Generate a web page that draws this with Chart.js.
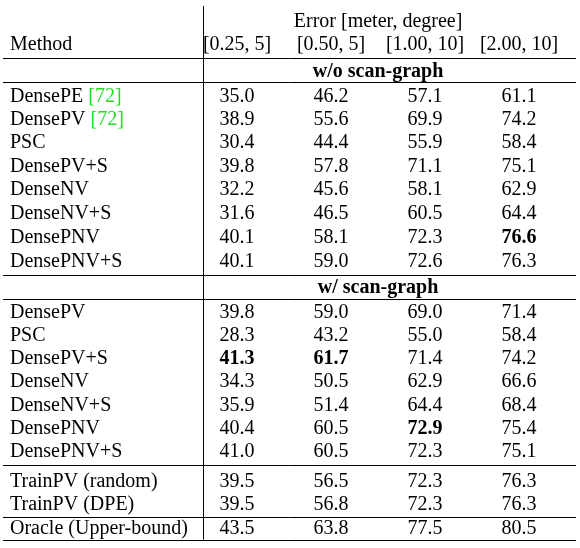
<!DOCTYPE html>
<html><head><meta charset="utf-8">
<script src="https://cdn.jsdelivr.net/npm/chart.js@4/dist/chart.umd.min.js"></script>
<style>html,body{margin:0;padding:0;background:#fff}</style>
</head><body>
<canvas id="c" width="580" height="548"></canvas>
<script>
const columns = ["[0.25, 5]", "[0.50, 5]", "[1.00, 10]", "[2.00, 10]"];
const groupTitles = ["w/o scan-graph", "w/ scan-graph"];
const methods = ["DensePE", "DensePV", "PSC", "DensePV+S", "DenseNV", "DenseNV+S", "DensePNV", "DensePNV+S",
  "DensePV", "PSC", "DensePV+S", "DenseNV", "DenseNV+S", "DensePNV", "DensePNV+S",
  "TrainPV (random)", "TrainPV (DPE)", "Oracle (Upper-bound)"];
const cites = ["[72]", "[72]", "", "", "", "", "", "", "", "", "", "", "", "", "", "", "", ""];
const err025 = [35.0, 38.9, 30.4, 39.8, 32.2, 31.6, 40.1, 40.1, 39.8, 28.3, 41.3, 34.3, 35.9, 40.4, 41.0, 39.5, 39.5, 43.5];
const err050 = [46.2, 55.6, 44.4, 57.8, 45.6, 46.5, 58.1, 59.0, 59.0, 43.2, 61.7, 50.5, 51.4, 60.5, 60.5, 56.5, 56.8, 63.8];
const err100 = [57.1, 69.9, 55.9, 71.1, 58.1, 60.5, 72.3, 72.6, 69.0, 55.0, 71.4, 62.9, 64.4, 72.9, 72.3, 72.3, 72.3, 77.5];
const err200 = [61.1, 74.2, 58.4, 75.1, 62.9, 64.4, 76.6, 76.3, 71.4, 58.4, 74.2, 66.6, 68.4, 75.4, 75.1, 76.3, 76.3, 80.5];
const boldCells = [[10,0],[10,1],[13,2],[6,3]];
const rowSlots = [3.2,4.2,5.2,6.2,7.2,8.2,9.24,10.26, 12.44,13.43,14.42,15.41,16.4,17.41,18.38, 19.66,20.64, 21.67];
const groupSlots = [2.14, 11.4];
const hLines = [1.62, 2.65, 10.9, 11.9, 19.0, 21.24, 22.2];
const vLineX = 0.638;
const cols = [err025, err050, err100, err200];
const datasets = cols.map((arr,ci)=>({data: arr.map((v,i)=>({x:ci+1,y:rowSlots[i]})), pointRadius:0, showLine:false}));
datasets.push({data: methods.map((m,i)=>({x:-1.415,y:rowSlots[i]})), pointRadius:0});
const F = '"Liberation Serif", "DejaVu Serif", serif';
const FS = '20px ';
const tablePlugin = {
  id:'table',
  afterDatasetsDraw(chart){
    const ctx=chart.ctx, xs=chart.scales.x, ys=chart.scales.y;
    ctx.save();
    ctx.strokeStyle='#000'; ctx.lineWidth=1;
    hLines.forEach(h=>{const y=Math.round(ys.getPixelForValue(h))+0.5;ctx.beginPath();ctx.moveTo(3,y);ctx.lineTo(576,y);ctx.stroke();});
    const vx=Math.round(xs.getPixelForValue(vLineX))+0.5;
    ctx.beginPath();ctx.moveTo(vx,ys.getPixelForValue(-0.6));ctx.lineTo(vx,ys.getPixelForValue(22.2));ctx.stroke();
    ctx.fillStyle='#000'; ctx.textBaseline='middle';
    ctx.font=FS+F; ctx.textAlign='center';
    const dy=1.5;
    ctx.fillText('Error [meter, degree]', xs.getPixelForValue(2.5), ys.getPixelForValue(0)+dy);
    columns.forEach((c,i)=>ctx.fillText(c, xs.getPixelForValue(i+1), ys.getPixelForValue(1)+dy));
    ctx.textAlign='left'; ctx.fillText('Method', xs.getPixelForValue(-1.415), ys.getPixelForValue(1)+dy);
    ctx.font='bold '+FS+F; ctx.textAlign='center';
    groupTitles.forEach((g,i)=>ctx.fillText(g, xs.getPixelForValue(2.5), ys.getPixelForValue(groupSlots[i])+dy));
    cols.forEach((arr,ci)=>{
      const meta=chart.getDatasetMeta(ci);
      arr.forEach((v,i)=>{
        const b=boldCells.some(([r,c])=>r===i&&c===ci);
        ctx.font=(b?'bold ':'')+FS+F;
        ctx.fillText(v.toFixed(1), meta.data[i].x, meta.data[i].y+dy);
      });
    });
    const mm=chart.getDatasetMeta(4);
    ctx.textAlign='left'; ctx.font=FS+F;
    methods.forEach((m,i)=>{
      const x=mm.data[i].x, y=mm.data[i].y+dy;
      ctx.fillStyle='#000'; ctx.fillText(m,x,y);
      if(cites[i]){const w=ctx.measureText(m+' ').width; ctx.fillStyle='#22dd22'; ctx.fillText(cites[i],x+w,y);}
    });
    ctx.restore();
  }
};
new Chart(document.getElementById('c'),{
  type:'scatter',
  data:{datasets},
  options:{responsive:false, animation:false,
    layout:{padding:{left:10,right:12,top:0,bottom:0}},
    plugins:{legend:{display:false},tooltip:{enabled:false}},
    scales:{x:{type:'linear',min:-1.415,max:4.52,display:false},
            y:{type:'linear',min:-0.855,max:22.56,reverse:true,display:false}}},
  plugins:[tablePlugin]
});
</script>
</body></html>
